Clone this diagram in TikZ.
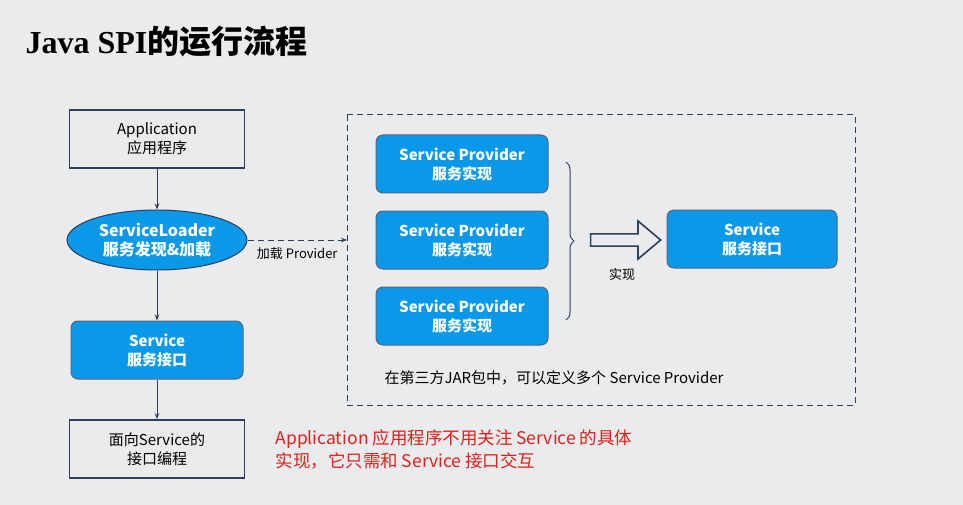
\documentclass[tikz,border=0pt]{standalone}
\usepackage{fontspec}
\setmainfont{Noto Sans CJK SC}
\newfontfamily\titlefont{Liberation Serif}
\usetikzlibrary{arrows.meta,shapes.geometric,shapes.arrows,decorations.pathreplacing}
\definecolor{bgGray}{HTML}{E9EBEC}
\definecolor{navy}{HTML}{2F3E5C}
\definecolor{spiBlue}{HTML}{0A98E8}
\definecolor{noteRed}{HTML}{E0201B}
\tikzset{
  plain box/.style={draw=navy, line width=1.6pt, fill=bgGray, minimum width=175pt, minimum height=58pt, align=center, font=\fontsize{15}{19}\selectfont},
  blue box/.style={draw=navy!80, line width=1pt, fill=spiBlue, rounded corners=7pt, minimum width=172pt, minimum height=58pt, align=center, text=white, font=\bfseries\fontsize{15}{19}\selectfont},
  flow/.style={-{Stealth[length=6pt]}, navy, line width=0.8pt},
  long dash/.style={dash pattern=on 6pt off 4pt}
}
\begin{document}
\begin{tikzpicture}[x=1pt,y=-1pt]
\fill[bgGray] (0,0) rectangle (963,505);
\useasboundingbox (0,0) rectangle (963,505);
\node[anchor=west, font=\bfseries\fontsize{32}{34}\selectfont] (title) at (22,42) {{\titlefont Java SPI}的运行流程};
% left column
\node[plain box] (app) at (157,139) {Application\\应用程序};
\node[ellipse, draw=navy, line width=1pt, fill=spiBlue, minimum width=180pt, minimum height=60pt, inner sep=0pt, align=center, text=white, font=\bfseries\fontsize{16}{19}\selectfont] (loader) at (157,240) {ServiceLoader\\服务发现\&加载};
\node[blue box] (svc) at (157,350) {Service\\服务接口};
\node[plain box] (prog) at (157,449) {面向Service的\\接口编程};
\draw[flow] (app) -- (loader);
\draw[flow] (loader) -- (svc);
\draw[flow] (svc) -- (prog);
% third party jar
\draw[navy, long dash, line width=1pt] (347,115) rectangle (855,405);
\coordinate (jar) at (347,240);
\draw[flow, long dash] (loader.east) -- node[below=4pt, black, font=\fontsize{13}{15}\selectfont] {加载 Provider} (jar);
\node[blue box] (p1) at (462,164) {Service Provider\\服务实现};
\node[blue box] (p2) at (462,240) {Service Provider\\服务实现};
\node[blue box] (p3) at (462,316) {Service Provider\\服务实现};
\draw[navy, line width=1pt, decorate, decoration={brace, amplitude=8pt}] (566,162) -- (566,320);
\node[single arrow, draw=navy, line width=1.6pt, fill=bgGray, minimum height=70pt, minimum width=38pt, single arrow head extend=8pt, single arrow tip angle=80, inner sep=3pt] (impl) at (622,240) {};
\node[font=\fontsize{13}{15}\selectfont] (impltext) at (622,275) {实现};
\node[blue box, minimum width=170pt] (iface) at (752,239) {Service\\服务接口};
\node[anchor=west, font=\fontsize{15}{17}\selectfont] (jarnote) at (381,378) {在第三方JAR包中，可以定义多个 Service Provider};
% note
\node[anchor=north west, align=left, text=noteRed, font=\fontsize{17.5}{23}\selectfont] (note) at (272,426) {Application 应用程序不用关注 Service 的具体\\实现，它只需和 Service 接口交互};
\end{tikzpicture}
\end{document}
